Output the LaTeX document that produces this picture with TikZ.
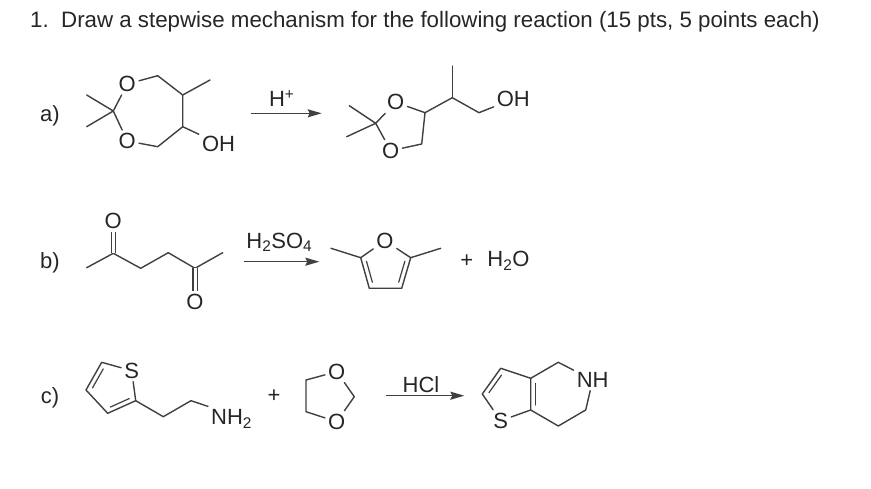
\documentclass[tikz,border=0pt]{standalone}
\usepackage{fontspec}
\setmainfont{Liberation Sans}
\usetikzlibrary{arrows.meta,calc}
\tikzset{
  bond/.style={draw=black!75,line width=1.4pt,line cap=round,line join=round},
  dbl/.style={draw=black!75,line width=1.2pt,double=white,double distance=3pt},
  atom/.style={inner sep=3pt,font=\fontsize{22}{24}\selectfont,text=black!85},
  lbl/.style={inner sep=0pt,font=\fontsize{22}{24}\selectfont,text=black!85},
  rxn/.style={draw=black!75,line width=1.3pt,-{Stealth[length=14pt,width=8pt,inset=2pt]}}
}
\newcommand{\innerbond}[3]{\draw[bond,line width=1.2pt,shorten >=5pt,shorten <=5pt] ($(#1)!#3*4.6pt!90:(#2)$) -- ($(#2)!#3*4.6pt!-90:(#1)$);}
\begin{document}
\begin{tikzpicture}[x=1pt,y=-1pt]
\useasboundingbox (0,0) rectangle (871,489);
\fill[white] (0,0) rectangle (871,489);
\node[lbl,anchor=base west,font=\fontsize{22.3}{24}\selectfont] (title) at (30,28) {1.\ \ Draw a stepwise mechanism for the following reaction (15 pts, 5 points each)};
\node[lbl] (la) at (50,115.5) {a)};
\node[lbl] (lb) at (50,262.5) {b)};
\node[lbl] (lc) at (50,397.5) {c)};

% a) reactant
\node[atom] (aO1) at (127.3,84) {O};
\node[atom] (aO2) at (127.3,141) {O};
\node[atom] (aOH) at (218.5,143.5) {OH};
\coordinate (aC) at (113.3,111);
\coordinate (aM1) at (86.7,95);
\coordinate (aM2) at (86.7,126.7);
\coordinate (aC1) at (157.7,75.7);
\coordinate (aC2) at (182.7,95);
\coordinate (aM3) at (210,80);
\coordinate (aC3) at (182.7,126.7);
\coordinate (aC4) at (157.7,146.7);
\draw[bond] (aM1)--(aC)--(aM2);
\draw[bond] (aC)--(aO1);
\draw[bond] (aC)--(aO2);
\draw[bond] (aO1)--(aC1)--(aC2)--(aC3)--(aC4)--(aO2);
\draw[bond] (aC2)--(aM3);
\draw[bond] (aC3)--(aOH);
\node[lbl] (hplus) at (281.7,98.5) {H\textsuperscript{+}};
\coordinate (aA1) at (251,113.3);
\coordinate (aA2) at (321.7,113.3);
\draw[rxn] (aA1)--(aA2);

% a) product
\node[atom] (pO1) at (395.7,102.3) {O};
\node[atom] (pO2) at (390.7,150.7) {O};
\node[atom] (pOH) at (513.3,99) {OH};
\coordinate (pM1) at (349.3,105.7);
\coordinate (pM2) at (346.7,136.7);
\coordinate (pC) at (375.7,123.3);
\coordinate (pC4) at (425,112.7);
\coordinate (pC5) at (421.7,144);
\coordinate (pCH) at (452.3,97.7);
\coordinate (pM3) at (452.3,66);
\coordinate (pCH2) at (479,112.7);
\draw[bond] (pM1)--(pC)--(pM2);
\draw[bond] (pC)--(pO1);
\draw[bond] (pC)--(pO2);
\draw[bond] (pO1)--(pC4)--(pC5)--(pO2);
\draw[bond] (pC4)--(pCH)--(pCH2)--(pOH);
\draw[bond] (pCH)--(pM3);

% b) reactant
\node[atom] (bO1) at (113.3,221) {O};
\node[atom] (bO2) at (195,302) {O};
\coordinate (bM1) at (86.7,267.7);
\coordinate (bC1) at (113.3,253.3);
\coordinate (bC2) at (140.7,268.3);
\coordinate (bC3) at (168.3,252.7);
\coordinate (bC4) at (195,268.3);
\coordinate (bM2) at (222.7,252.7);
\draw[bond] (bM1)--(bC1)--(bC2)--(bC3)--(bC4)--(bM2);
\draw[dbl] (bC1)--(bO1);
\draw[dbl] (bC4)--(bO2);
\node[lbl] (h2so4) at (279.3,242.5) {H\textsubscript{2}SO\textsubscript{4}};
\coordinate (bA1) at (244,261.7);
\coordinate (bA2) at (319.3,261.7);
\draw[rxn] (bA1)--(bA2);

% b) product
\node[atom] (fO) at (385,240.7) {O};
\coordinate (fM1) at (331,248.3);
\coordinate (fC2) at (360.7,257.7);
\coordinate (fC3) at (369.3,288.3);
\coordinate (fC4) at (401.7,288.3);
\coordinate (fC5) at (410.7,257.7);
\coordinate (fM2) at (440.7,248.3);
\draw[bond] (fM1)--(fC2)--(fC3)--(fC4)--(fC5)--(fM2);
\draw[bond] (fC2)--(fO)--(fC5);
\innerbond{fC2}{fC3}{1}
\innerbond{fC4}{fC5}{1}
\node[lbl] (plusb) at (466.7,261.5) {+};
\node[lbl] (water) at (508.5,261) {H\textsubscript{2}O};

% c) amine
\node[atom] (tS) at (131.7,370.7) {S};
\node[atom,anchor=west] (tN) at (208,419) {NH\textsubscript{2}};
\coordinate (tC5) at (101.7,362.3);
\coordinate (tC4) at (86,390);
\coordinate (tC3) at (107.7,413.3);
\coordinate (tC2) at (135.7,400.7);
\coordinate (tC6) at (163.3,416.7);
\coordinate (tC7) at (191,400.7);
\draw[bond] (tS)--(tC5)--(tC4)--(tC3)--(tC2)--(tS);
\draw[bond] (tC2)--(tC6)--(tC7)--(tN.north west);
\innerbond{tC5}{tC4}{1}
\innerbond{tC3}{tC2}{1}
\node[lbl] (plusc) at (274,396) {+};

% c) dioxolane
\node[atom] (dO1) at (336.7,371.7) {O};
\node[atom] (dO2) at (336.7,421.7) {O};
\coordinate (dC) at (354.3,396.7);
\coordinate (dC1) at (306,380);
\coordinate (dC2) at (306,411.7);
\draw[bond] (dO1)--(dC)--(dO2)--(dC2)--(dC1)--(dO1);
\node[lbl] (hcl) at (421,385) {HCl};
\coordinate (cA1) at (385.7,395.7);
\coordinate (cA2) at (464.3,395.7);
\draw[rxn] (cA1)--(cA2);

% c) product
\node[atom] (qS) at (500.7,420.7) {S};
\node[atom] (qN) at (592.7,380) {NH};
\coordinate (q1) at (500.7,368.3);
\coordinate (q2) at (482.3,394);
\coordinate (q3) at (530.7,410);
\coordinate (q4) at (530.7,378.3);
\coordinate (q5) at (558.3,362.3);
\coordinate (q6) at (585.7,410);
\coordinate (q7) at (558.3,426);
\draw[bond] (qS)--(q2)--(q1)--(q4)--(q3)--(qS);
\draw[bond] (q4)--(q5)--(qN)--(q6)--(q7)--(q3);
\innerbond{q1}{q2}{1}
\innerbond{q4}{q3}{1}
\end{tikzpicture}
\end{document}
